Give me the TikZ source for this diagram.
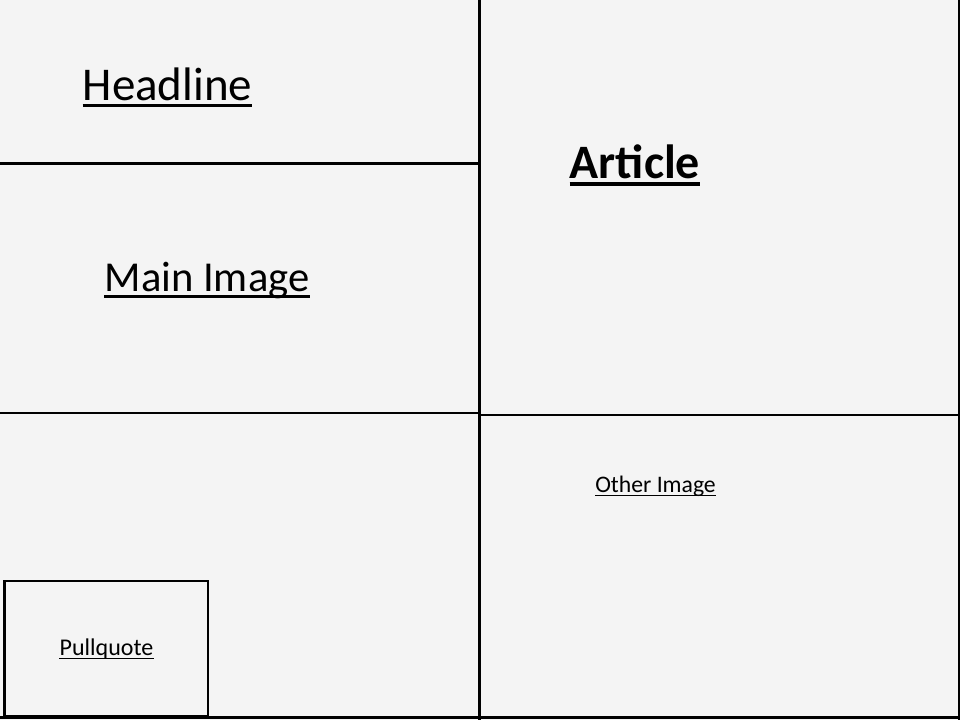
\documentclass[tikz,border=0pt]{standalone}
\usepackage{fontspec}
\setmainfont{Carlito}
\begin{document}
\begin{tikzpicture}[x=1pt,y=-1pt,
  frame/.style={line width=2.8pt,black},
  lbl/.style={inner sep=0pt,anchor=base,text=black},
  ul/.style={line width=#1,black}]
\fill[fill={rgb,255:red,244;green,244;blue,244}] (0,0) rectangle (960,720);
\useasboundingbox (0,0) rectangle (960,720);
% frame
\coordinate (tl) at (0,163.5);
\coordinate (tm) at (479.5,163.5);
\coordinate (ml) at (0,413);
\coordinate (mm) at (479.5,413);
\coordinate (mr) at (959,415);
\coordinate (mm2) at (479.5,415);
\coordinate (vt) at (479.5,0);
\coordinate (vb) at (479.5,720);
\coordinate (rt) at (959,0);
\coordinate (rb) at (959,720);
\coordinate (bl) at (0,717.5);
\coordinate (br) at (960,717.5);
\draw[frame] (tl) -- (tm);
\draw[frame] (ml) -- (mm);
\draw[frame] (mm2) -- (mr);
\draw[frame] (vt) -- (vb);
\draw[frame] (rt) -- (rb);
\draw[frame] (bl) -- (br);
\draw[line width=2.6pt] (4.5,581) rectangle (208,716);
% labels
\node[lbl,font=\fontsize{47}{56}\selectfont] (h) at (167.5,100) {Headline};
\draw[ul=2.6pt] ([yshift=-5.5pt]h.base west) -- ([yshift=-5.5pt]h.base east);
\node[lbl,font=\fontsize{42.6}{52}\selectfont] (mi) at (207,291) {Main Image};
\draw[ul=2.6pt] ([yshift=-5.5pt]mi.base west) -- ([yshift=-5.5pt]mi.base east);
\node[lbl,font=\fontsize{48}{58}\selectfont\bfseries] (a) at (635,178) {Article};
\draw[ul=3.6pt] ([yshift=-6pt]a.base west) -- ([yshift=-6pt]a.base east);
\node[lbl,font=\fontsize{23.7}{28}\selectfont] (oi) at (655.5,492) {Other Image};
\draw[ul=1.5pt] ([yshift=-3.5pt]oi.base west) -- ([yshift=-3.5pt]oi.base east);
\node[lbl,font=\fontsize{24}{28}\selectfont] (pq) at (106.5,655) {Pullquote};
\draw[ul=1.5pt] ([yshift=-3.5pt]pq.base west) -- ([yshift=-3.5pt]pq.base east);
\end{tikzpicture}
\end{document}
